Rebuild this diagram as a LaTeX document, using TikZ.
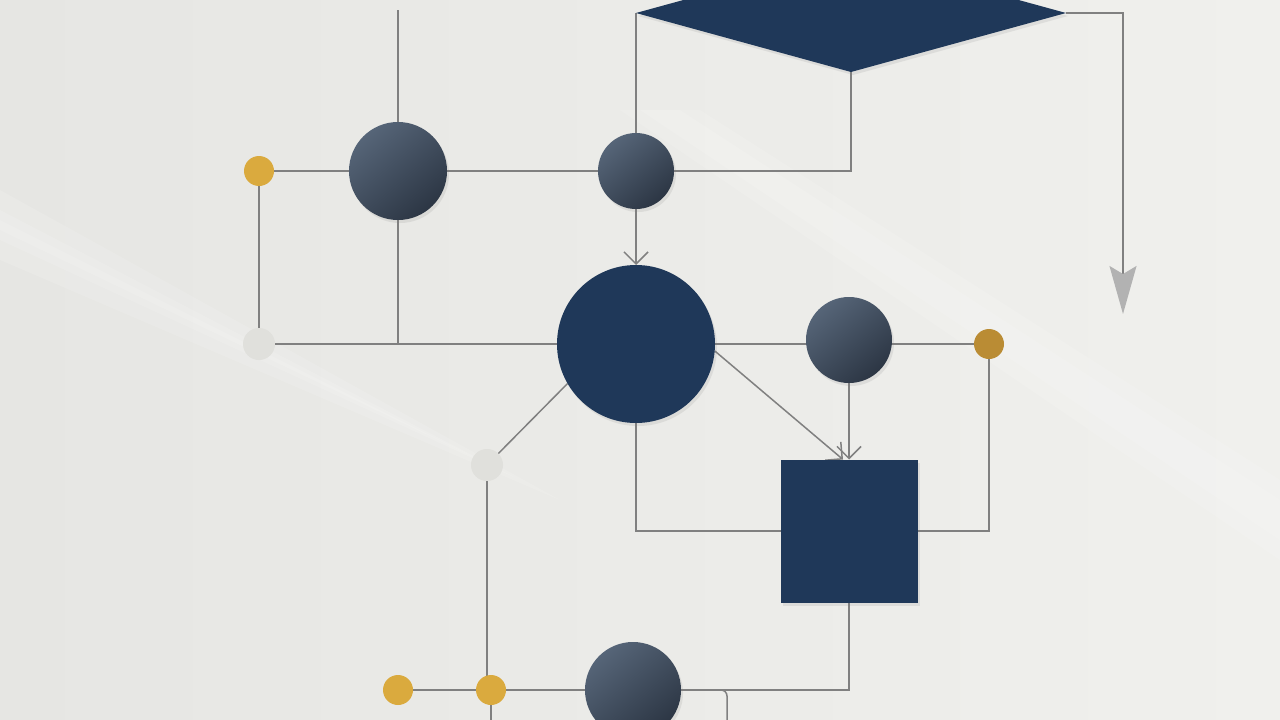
\documentclass[tikz,border=0pt]{standalone}
\usepackage{xcolor}
\usepackage{tikz}
\usetikzlibrary{positioning, backgrounds, calc}
\usetikzlibrary{arrows.meta, shapes, shadows}

\definecolor{PaperGrey}{RGB}{240, 240, 237}
\definecolor{PaperShade}{RGB}{230, 230, 227}
\definecolor{NavyBlue}{RGB}{31, 56, 89}
\definecolor{SlateDark}{RGB}{44, 54, 68}
\definecolor{SlateLight}{RGB}{86, 101, 120}
\definecolor{Mustard}{RGB}{218, 170, 62}
\definecolor{MustardDark}{RGB}{186, 140, 52}
\definecolor{PaleDot}{RGB}{224, 224, 220}
\definecolor{WireGrey}{RGB}{128, 128, 128}
\definecolor{TipGrey}{RGB}{178, 178, 178}

\pgfdeclarelayer{paper}
\pgfdeclarelayer{wires}
\pgfsetlayers{paper,wires,main}

\tikzset{
	wire/.style={draw=WireGrey, line width=1.5pt},
	smalltip/.style={-{Straight Barb[length=12pt, width=24pt]}},
	bigtip/.style={-{Stealth[length=48pt, width=27pt, inset=8pt, color=TipGrey, fill=TipGrey]}},
	soft/.style={drop shadow={opacity=.15, shadow xshift=2pt, shadow yshift=-3pt}},
	slate/.style={circle, inner sep=0pt, outer sep=0pt, minimum size=#1, soft,
		shading=axis, top color=SlateLight, bottom color=SlateDark, shading angle=40},
	hub/.style={circle, inner sep=0pt, outer sep=0pt, minimum size=158pt, fill=NavyBlue, soft},
	block/.style={rectangle, inner sep=0pt, outer sep=0pt, minimum width=137pt, minimum height=143pt, fill=NavyBlue, soft},
	decision/.style={diamond, inner sep=0pt, outer sep=0pt, minimum width=430pt, minimum height=118pt, fill=NavyBlue, soft},
	joint/.style={circle, inner sep=0pt, outer sep=0pt, minimum size=30pt, fill=#1},
	pale/.style={circle, inner sep=0pt, outer sep=0pt, minimum size=32pt, fill=PaleDot},
	streak/.style={white, opacity=.12},
}

\begin{document}
\begin{tikzpicture}[x=1pt, y=-1pt]
	\useasboundingbox (0,0) rectangle (1280,720);
	\begin{pgfonlayer}{paper}
		\fill[left color=PaperShade, right color=PaperGrey] (0,0) rectangle (1280,720);
		% soft light streaks
		\foreach \w in {0,20,40}
			\fill[streak] (620+\w,110) -- (700-\w,110) -- (1280,480+\w) -- (1280,560-\w) -- cycle;
		\foreach \w in {0,20,40}
			\fill[streak] (0,190+\w) -- (0,260-\w) -- (560-2*\w,500-\w) -- cycle;
	\end{pgfonlayer}

	\node[decision] (choice) at (851,13) {};
	\node[slate=98pt] (knob) at (398,171) {};
	\node[slate=76pt] (relay) at (636,171) {};
	\node[hub] (core) at (636,344) {};
	\node[slate=86pt] (gear) at (849,340) {};
	\node[block] (box) at (849,531) {};
	\node[slate=96pt] (sink) at (633,690) {};

	\node[joint=Mustard] (goldA) at (259,171) {};
	\node[joint=MustardDark] (goldB) at (989,344) {};
	\node[joint=Mustard] (goldC) at (398,690) {};
	\node[joint=Mustard] (goldD) at (491,690) {};
	\node[pale] (paleA) at (259,344) {};
	\node[pale] (paleB) at (487,465) {};

	\coordinate (topend) at (398,10);
	\coordinate (outend) at (1123,314);
	\coordinate (footA) at (491,725);
	\coordinate (footB) at (727,725);

	\begin{pgfonlayer}{wires}
		\draw[wire] (topend) -- (knob);
		\draw[wire] (goldA) -- (knob) -- (relay);
		\draw[wire] (goldA) -- (paleA) -- (core);
		\draw[wire] (knob) -- (knob |- paleA);
		\draw[wire, smalltip] (relay) -- (core.north);
		\draw[wire] (choice.west) -- (relay);
		\draw[wire] (choice.south) |- (relay);
		\draw[wire, bigtip] (choice.east) -| (outend);

		\draw[wire] (core) -- (goldB);
		\draw[wire] (goldB) |- (box.east);
		\draw[wire, smalltip] (gear) -- (gear |- box.north);
		\draw[wire, smalltip] (core.-5) -- ([xshift=-6pt]box.north);
		\draw[wire] (core.south) |- (box.west);
		\draw[wire] (core.210) -- (paleB);
		\draw[wire] (paleB) -- (paleB |- goldD);

		\draw[wire] (goldC) -- (goldD) -- (sink);
		\draw[wire] (goldD) -- (footA);
		\draw[wire] (box.south) |- (sink);
		\draw[wire, rounded corners=6pt] (sink) -| (footB);
	\end{pgfonlayer}
\end{tikzpicture}
\end{document}
